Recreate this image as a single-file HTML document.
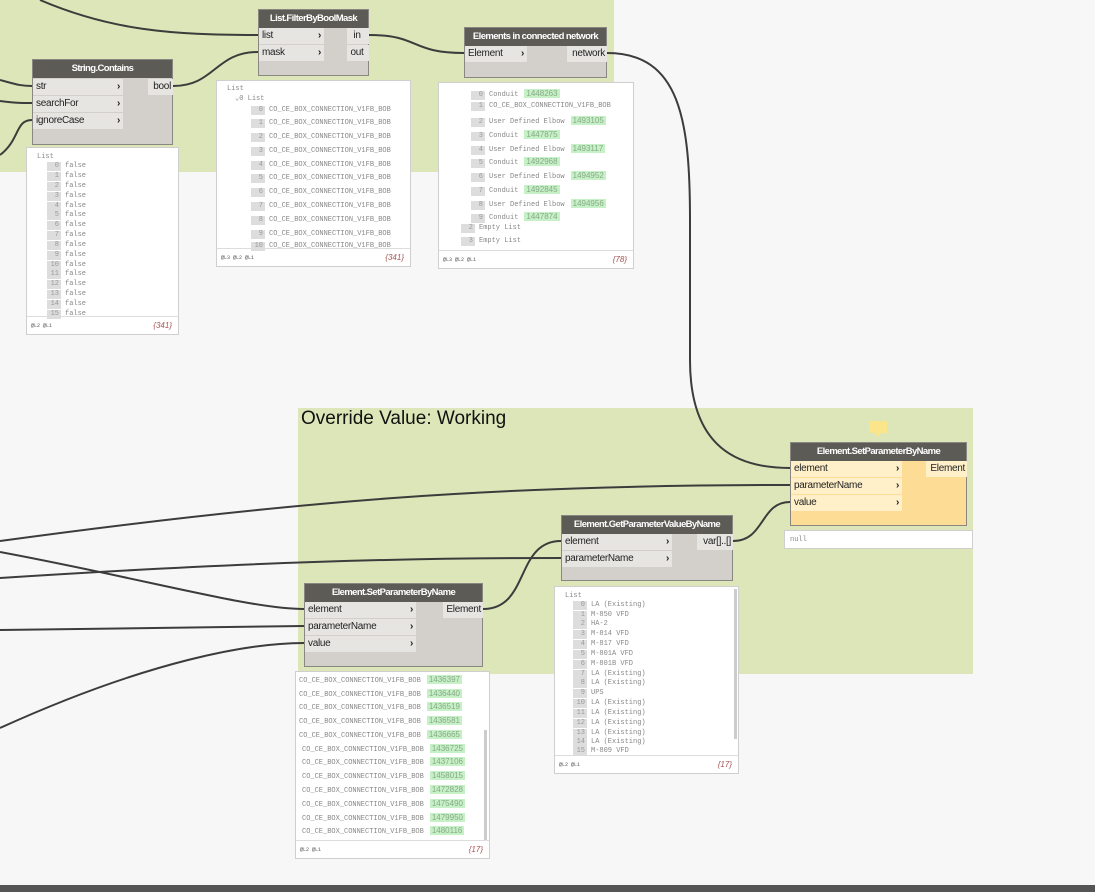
<!DOCTYPE html>
<html><head><meta charset="utf-8"><style>
*{margin:0;padding:0;box-sizing:border-box}
body{width:1095px;height:892px;background:#f7f7f7;position:relative;overflow:hidden;font-family:"Liberation Sans",sans-serif}
.a{position:absolute}
.grp{position:absolute;background:#dde6b8}
.node{position:absolute;background:#d3cfca;border:1px solid #8a8782}
.hd{position:absolute;left:0;right:0;top:0;height:18px;background:#5d5b56;color:#fff;font-size:9.5px;font-weight:bold;text-align:center;line-height:18px;letter-spacing:-0.6px;white-space:nowrap;overflow:hidden}
.pin{position:absolute;background:#e7e5e2;font-size:10px;color:#222;line-height:16px;padding-left:3px;height:16px;letter-spacing:-0.3px}
.pin b{position:absolute;right:3px;top:0;font-weight:bold}
.pout{position:absolute;background:#e7e5e2;font-size:10px;color:#222;line-height:16px;text-align:right;padding-right:2px;height:16px;letter-spacing:-0.3px}
.pv{position:absolute;background:#fff;border:1px solid #cfcfcf;font-family:"Liberation Mono",monospace;font-size:7px;color:#888}
.pv .ft{position:absolute;left:0;right:0;bottom:0;height:18px;border-top:1px solid #ddd;font-size:5px;color:#555;line-height:18px;padding-left:4px}
.pv .ft i{position:absolute;right:6px;font-size:8px;color:#a55;font-family:"Liberation Sans",sans-serif}
.r{position:absolute;white-space:nowrap;line-height:9px}
.r s{text-decoration:none;display:inline-block;background:#ddd;color:#999;width:14px;text-align:right;padding-right:2px;margin-right:4px}
.g{background:#c6f0c6;color:#8a8;padding:0 2px;margin-left:6px;font-family:"Liberation Sans",sans-serif;font-size:8px}
</style></head><body>
<div class="grp" style="left:0;top:0;width:614px;height:172px"></div>
<div class="grp" style="left:298px;top:408px;width:675px;height:266px"></div>
<div class="a" style="left:301px;top:408px;font-family:'Liberation Sans',sans-serif;font-size:19px;color:#111">Override Value: Working</div>
<div class="a" style="left:0;top:885px;width:1095px;height:7px;background:#555"></div>

<svg class="a" style="left:0;top:0" width="1095" height="892">
<g fill="none" stroke="#3c3c3c" stroke-width="2">
<path d="M40 0 C110 30 170 35 258 35"/>
<path d="M173 86 C215 86 215 52 258 52"/>
<path d="M369 35 C420 35 410 53 464 53"/>
<path d="M607 53 C680 53 690 120 690 220 L690 360 C690 450 740 468 790 468"/>
<path d="M0 80 C15 84 20 86 32 86"/>
<path d="M0 101 C15 103 20 103 32 103"/>
<path d="M0 155 C20 140 15 120 32 120"/>
<path d="M0 541 C300 500 500 485 790 485"/>
<path d="M0 578 C250 562 400 558 561 558"/>
<path d="M0 552 C150 580 250 609 304 609"/>
<path d="M0 630 C150 628 250 626 304 626"/>
<path d="M0 728 C150 660 250 643 304 643"/>
<path d="M483 609 C530 609 515 541 561 541"/>
<path d="M733 541 C765 541 760 502 790 502"/>
</g>
<path d="M869 421 h18 v12 h-6 l-3 4 l-3 -4 h-6z" fill="#fbe58a"/>
</svg>

<!-- String.Contains -->
<div class="node" style="left:32px;top:59px;width:141px;height:86px">
<div class="hd">String.Contains</div>
<div class="pin" style="left:0;top:19px;width:90px">str<b>›</b></div>
<div class="pin" style="left:0;top:36px;width:90px">searchFor<b>›</b></div>
<div class="pin" style="left:0;top:53px;width:90px">ignoreCase<b>›</b></div>
<div class="pout" style="left:115px;top:19px;width:25px">bool</div>
</div>
<div class="pv" style="left:26px;top:147px;width:153px;height:188px">
<div class="r" style="left:10px;top:5px">List</div>
<div class="r" style="left:20px;top:14px"><s>0</s>false</div>
<div class="r" style="left:20px;top:24px"><s>1</s>false</div>
<div class="r" style="left:20px;top:34px"><s>2</s>false</div>
<div class="r" style="left:20px;top:44px"><s>3</s>false</div>
<div class="r" style="left:20px;top:54px"><s>4</s>false</div>
<div class="r" style="left:20px;top:63px"><s>5</s>false</div>
<div class="r" style="left:20px;top:73px"><s>6</s>false</div>
<div class="r" style="left:20px;top:83px"><s>7</s>false</div>
<div class="r" style="left:20px;top:93px"><s>8</s>false</div>
<div class="r" style="left:20px;top:103px"><s>9</s>false</div>
<div class="r" style="left:20px;top:113px"><s>10</s>false</div>
<div class="r" style="left:20px;top:122px"><s>11</s>false</div>
<div class="r" style="left:20px;top:132px"><s>12</s>false</div>
<div class="r" style="left:20px;top:142px"><s>13</s>false</div>
<div class="r" style="left:20px;top:152px"><s>14</s>false</div>
<div class="r" style="left:20px;top:162px"><s>15</s>false</div>
<div class="ft">@L2 @L1<i>{341}</i></div>
</div>

<!-- FilterByBoolMask -->
<div class="node" style="left:258px;top:9px;width:111px;height:67px">
<div class="hd">List.FilterByBoolMask</div>
<div class="pin" style="left:0;top:18px;width:65px">list<b>›</b></div>
<div class="pin" style="left:0;top:35px;width:65px">mask<b>›</b></div>
<div class="pout" style="left:88px;top:18px;width:22px;text-align:center">in</div>
<div class="pout" style="left:88px;top:35px;width:22px;text-align:center">out</div>
</div>
<div class="pv" style="left:216px;top:80px;width:195px;height:187px">
<div class="r" style="left:10px;top:4px">List</div>
<div class="r" style="left:18px;top:14px">⌄0 List</div>
<div class="r" style="left:34px;top:25px"><s>0</s>CO_CE_BOX_CONNECTION_V1FB_BOB</div>
<div class="r" style="left:34px;top:38px"><s>1</s>CO_CE_BOX_CONNECTION_V1FB_BOB</div>
<div class="r" style="left:34px;top:52px"><s>2</s>CO_CE_BOX_CONNECTION_V1FB_BOB</div>
<div class="r" style="left:34px;top:66px"><s>3</s>CO_CE_BOX_CONNECTION_V1FB_BOB</div>
<div class="r" style="left:34px;top:80px"><s>4</s>CO_CE_BOX_CONNECTION_V1FB_BOB</div>
<div class="r" style="left:34px;top:93px"><s>5</s>CO_CE_BOX_CONNECTION_V1FB_BOB</div>
<div class="r" style="left:34px;top:107px"><s>6</s>CO_CE_BOX_CONNECTION_V1FB_BOB</div>
<div class="r" style="left:34px;top:121px"><s>7</s>CO_CE_BOX_CONNECTION_V1FB_BOB</div>
<div class="r" style="left:34px;top:135px"><s>8</s>CO_CE_BOX_CONNECTION_V1FB_BOB</div>
<div class="r" style="left:34px;top:149px"><s>9</s>CO_CE_BOX_CONNECTION_V1FB_BOB</div>
<div class="r" style="left:34px;top:161px"><s>10</s>CO_CE_BOX_CONNECTION_V1FB_BOB</div>
<div class="ft">@L3 @L2 @L1<i>{341}</i></div>
</div>

<!-- Elements in connected network -->
<div class="node" style="left:464px;top:27px;width:143px;height:51px">
<div class="hd">Elements in connected network</div>
<div class="pin" style="left:0;top:18px;width:62px">Element<b>›</b></div>
<div class="pout" style="left:102px;top:18px;width:40px">network</div>
</div>
<div class="pv" style="left:438px;top:82px;width:196px;height:187px">
<div class="r" style="left:32px;top:6px"><s>0</s>Conduit<span class="g">1448263</span></div>
<div class="r" style="left:32px;top:19px"><s>1</s>CO_CE_BOX_CONNECTION_V1FB_BOB</div>
<div class="r" style="left:32px;top:33px"><s>2</s>User Defined Elbow<span class="g">1493105</span></div>
<div class="r" style="left:32px;top:47px"><s>3</s>Conduit<span class="g">1447875</span></div>
<div class="r" style="left:32px;top:61px"><s>4</s>User Defined Elbow<span class="g">1493117</span></div>
<div class="r" style="left:32px;top:74px"><s>5</s>Conduit<span class="g">1492968</span></div>
<div class="r" style="left:32px;top:88px"><s>6</s>User Defined Elbow<span class="g">1494952</span></div>
<div class="r" style="left:32px;top:102px"><s>7</s>Conduit<span class="g">1492845</span></div>
<div class="r" style="left:32px;top:116px"><s>8</s>User Defined Elbow<span class="g">1494956</span></div>
<div class="r" style="left:32px;top:129px"><s>9</s>Conduit<span class="g">1447874</span></div>
<div class="r" style="left:22px;top:141px"><s>2</s>Empty List</div>
<div class="r" style="left:22px;top:154px"><s>3</s>Empty List</div>
<div class="ft">@L3 @L2 @L1<i>{78}</i></div>
</div>

<!-- right SetParameterByName -->
<div class="node" style="left:790px;top:442px;width:177px;height:84px;background:#fddc95">
<div class="hd">Element.SetParameterByName</div>
<div class="pin" style="left:0;top:18px;width:111px;background:#fff0c9">element<b>›</b></div>
<div class="pin" style="left:0;top:35px;width:111px;background:#fff0c9">parameterName<b>›</b></div>
<div class="pin" style="left:0;top:52px;width:111px;background:#fff0c9">value<b>›</b></div>
<div class="pout" style="left:135px;top:18px;width:41px;background:#fff0c9">Element</div>
</div>
<div class="pv" style="left:784px;top:530px;width:189px;height:19px"><div class="r" style="left:5px;top:5px">null</div></div>

<!-- GetParameterValueByName -->
<div class="node" style="left:561px;top:515px;width:172px;height:66px">
<div class="hd">Element.GetParameterValueByName</div>
<div class="pin" style="left:0;top:18px;width:110px">element<b>›</b></div>
<div class="pin" style="left:0;top:35px;width:110px">parameterName<b>›</b></div>
<div class="pout" style="left:135px;top:18px;width:36px">var[]..[]</div>
</div>
<div class="pv" style="left:554px;top:586px;width:185px;height:188px">
<div class="r" style="left:10px;top:5px">List</div>
<div class="r" style="left:18px;top:14px"><s>0</s>LA (Existing)</div>
<div class="r" style="left:18px;top:24px"><s>1</s>M-850 VFD</div>
<div class="r" style="left:18px;top:33px"><s>2</s>HA-2</div>
<div class="r" style="left:18px;top:43px"><s>3</s>M-814 VFD</div>
<div class="r" style="left:18px;top:53px"><s>4</s>M-817 VFD</div>
<div class="r" style="left:18px;top:63px"><s>5</s>M-801A VFD</div>
<div class="r" style="left:18px;top:73px"><s>6</s>M-801B VFD</div>
<div class="r" style="left:18px;top:83px"><s>7</s>LA (Existing)</div>
<div class="r" style="left:18px;top:92px"><s>8</s>LA (Existing)</div>
<div class="r" style="left:18px;top:102px"><s>9</s>UPS</div>
<div class="r" style="left:18px;top:112px"><s>10</s>LA (Existing)</div>
<div class="r" style="left:18px;top:122px"><s>11</s>LA (Existing)</div>
<div class="r" style="left:18px;top:132px"><s>12</s>LA (Existing)</div>
<div class="r" style="left:18px;top:142px"><s>13</s>LA (Existing)</div>
<div class="r" style="left:18px;top:151px"><s>14</s>LA (Existing)</div>
<div class="r" style="left:18px;top:160px"><s>15</s>M-809 VFD</div>
<div class="a" style="left:179px;top:2px;width:3px;height:150px;background:#ccc"></div>
<div class="ft">@L2 @L1<i>{17}</i></div>
</div>

<!-- left SetParameterByName -->
<div class="node" style="left:304px;top:583px;width:179px;height:84px">
<div class="hd">Element.SetParameterByName</div>
<div class="pin" style="left:0;top:18px;width:111px">element<b>›</b></div>
<div class="pin" style="left:0;top:35px;width:111px">parameterName<b>›</b></div>
<div class="pin" style="left:0;top:52px;width:111px">value<b>›</b></div>
<div class="pout" style="left:138px;top:18px;width:40px">Element</div>
</div>
<div class="pv" style="left:295px;top:671px;width:195px;height:188px">
<div class="r" style="left:3px;top:3px">CO_CE_BOX_CONNECTION_V1FB_BOB<span class="g">1436397</span></div>
<div class="r" style="left:3px;top:17px">CO_CE_BOX_CONNECTION_V1FB_BOB<span class="g">1436440</span></div>
<div class="r" style="left:3px;top:30px">CO_CE_BOX_CONNECTION_V1FB_BOB<span class="g">1436519</span></div>
<div class="r" style="left:3px;top:44px">CO_CE_BOX_CONNECTION_V1FB_BOB<span class="g">1436581</span></div>
<div class="r" style="left:3px;top:58px">CO_CE_BOX_CONNECTION_V1FB_BOB<span class="g">1436665</span></div>
<div class="r" style="left:6px;top:72px">CO_CE_BOX_CONNECTION_V1FB_BOB<span class="g">1436725</span></div>
<div class="r" style="left:6px;top:85px">CO_CE_BOX_CONNECTION_V1FB_BOB<span class="g">1437106</span></div>
<div class="r" style="left:6px;top:99px">CO_CE_BOX_CONNECTION_V1FB_BOB<span class="g">1458015</span></div>
<div class="r" style="left:6px;top:113px">CO_CE_BOX_CONNECTION_V1FB_BOB<span class="g">1472828</span></div>
<div class="r" style="left:6px;top:127px">CO_CE_BOX_CONNECTION_V1FB_BOB<span class="g">1475490</span></div>
<div class="r" style="left:6px;top:141px">CO_CE_BOX_CONNECTION_V1FB_BOB<span class="g">1479950</span></div>
<div class="r" style="left:6px;top:154px">CO_CE_BOX_CONNECTION_V1FB_BOB<span class="g">1480116</span></div>
<div class="a" style="left:188px;top:58px;width:3px;height:110px;background:#ccc"></div>
<div class="ft">@L2 @L1<i>{17}</i></div>
</div>
</body></html>
